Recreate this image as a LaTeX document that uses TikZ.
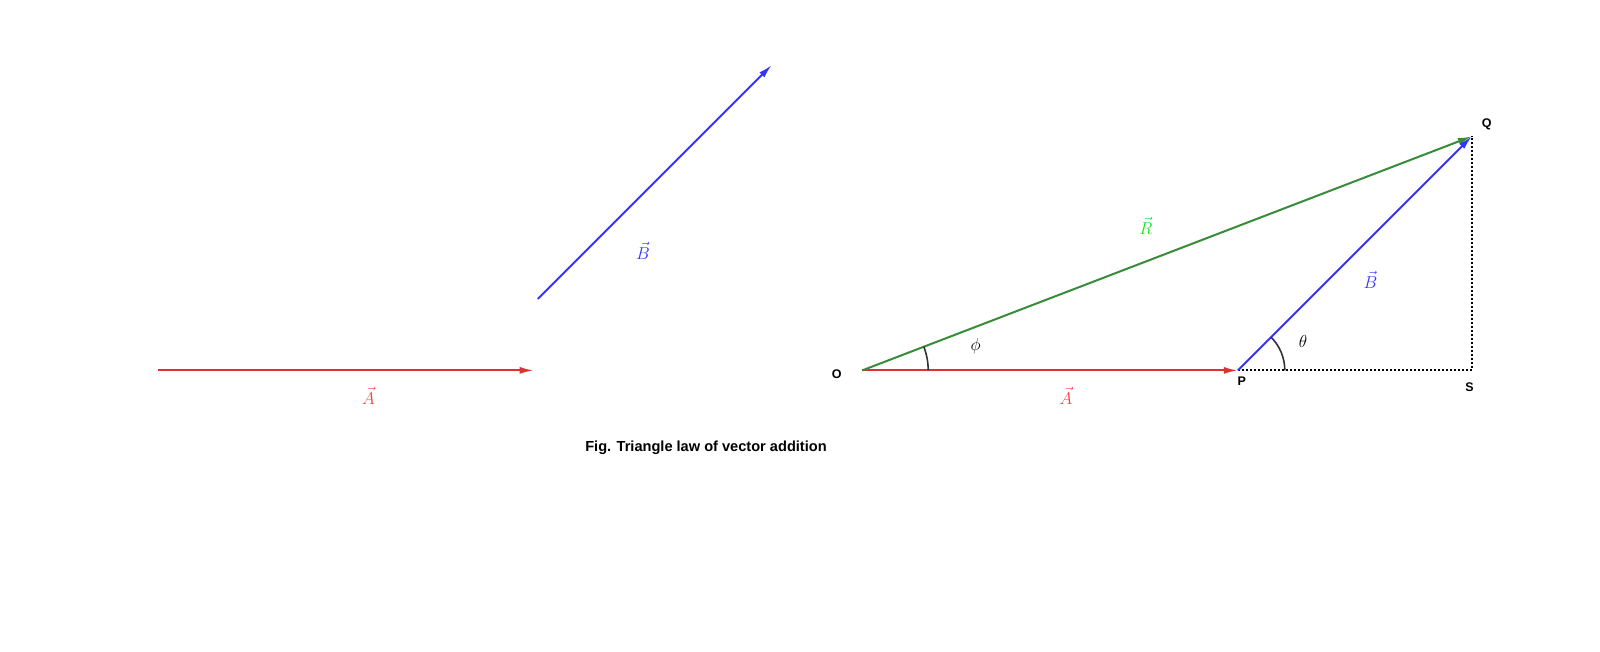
\documentclass[tikz,border=0pt]{standalone}
\usepackage{fontspec}
\setsansfont{Liberation Sans}
\usetikzlibrary{arrows.meta,positioning,calc}

\definecolor{vecred}{RGB}{224,48,48}
\definecolor{vecblue}{RGB}{52,52,246}
\definecolor{vecgreen}{RGB}{54,140,56}
\definecolor{labred}{RGB}{255,60,60}
\definecolor{labgreen}{RGB}{30,225,30}

\tikzset{
	vec/.style = {line width=2pt, ->},
	pointlabel/.style = {font=\sffamily\bfseries\fontsize{12.5}{14}\selectfont, inner sep=0pt},
	veclabel/.style = {font=\fontsize{16}{18}\selectfont, inner sep=0pt},
	anglearc/.style = {line width=1.6pt, black!80}
}

\begin{document}
\begin{tikzpicture}[x=1pt, y=1pt,
		>={Latex[length=14pt, width=7pt]}
	]
	\useasboundingbox (0,0) rectangle (1600,651);

	% the two vectors on their own
	\coordinate (a1) at (158,280.6);
	\coordinate (a2) at (533.7,280.6);
	\coordinate (b1) at (537.8,352);
	\coordinate (b2) at ($(b1)+(45:331)$);

	\draw[vec, vecred] (a1) -- (a2);
	\draw[vec, vecblue] (b1) -- (b2);

	\node[veclabel, text=labred] (la) at (368.4,255) {$\vec{A}$};
	\node[veclabel, text=vecblue] (lb) at (642.9,400) {$\vec{B}$};

	% the triangle
	\coordinate (O) at (862.2,280.6);
	\coordinate (P) at (1237.8,280.6);
	\coordinate (Q) at ($(P)+(45:331)$);
	\coordinate (S) at (Q |- P);

	\draw[line width=2pt, dotted] (P) -- (S) -- (Q);
	\draw[vec, vecred] (O) -- (P);
	\draw[vec, vecgreen] (O) -- (Q);
	\draw[vec, vecblue] (P) -- (Q);

	\draw[anglearc] (O) ++(0:66) arc[start angle=0, end angle=21.1, radius=66];
	\draw[anglearc] (P) ++(0:47) arc[start angle=0, end angle=45, radius=47];

	\node[pointlabel] (lo) at (836.7,276.5) {O};
	\node[pointlabel] (lp) at (1241.8,269.4) {P};
	\node[pointlabel] (ls) at (1469.4,264.3) {S};
	\node[pointlabel] (lq) at (1486.7,526.5) {Q};

	\node[veclabel, text=labred] (la2) at (1066,255) {$\vec{A}$};
	\node[veclabel, text=labgreen] (lr) at (1145.9,425) {$\vec{R}$};
	\node[veclabel, text=vecblue] (lb2) at (1370.4,371) {$\vec{B}$};
	\node[veclabel] (phi) at (975.5,305.1) {$\phi$};
	\node[veclabel] (theta) at (1303.1,309.2) {$\theta$};

	\node[font=\sffamily\bfseries\fontsize{14.6}{16}\selectfont, inner sep=0pt] (cap) at (706,203) {Fig. Triangle law of vector addition};
\end{tikzpicture}
\end{document}
